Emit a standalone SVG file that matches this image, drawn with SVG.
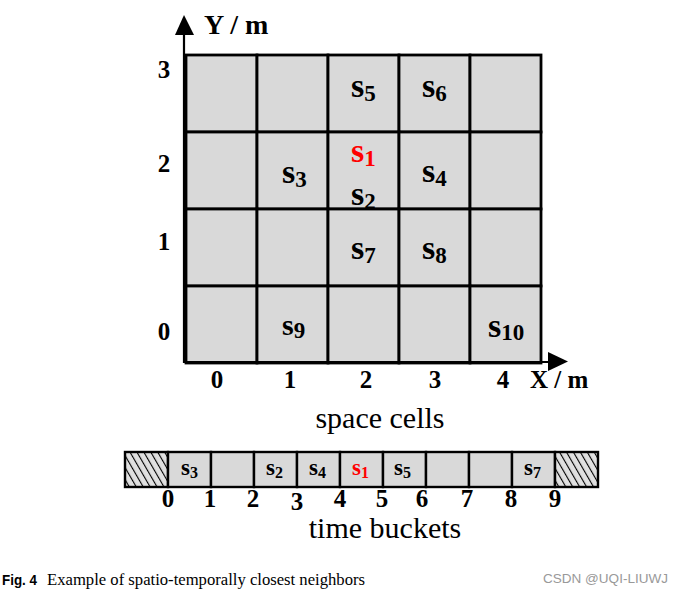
<svg xmlns="http://www.w3.org/2000/svg" width="681" height="595" viewBox="0 0 681 595">
<style>
.cell{fill:#d9d9d9;stroke:#000;stroke-width:2.8}
.tcell{fill:#d9d9d9;stroke:#000;stroke-width:2.4}
.ax{stroke:#000;stroke-width:2.2;fill:none}
.b{font-family:"Liberation Serif","Times New Roman",serif;font-weight:bold;fill:#000}
.n{font-family:"Liberation Serif","Times New Roman",serif;fill:#000}
.lab{font-size:34px}
.sub{font-size:23px}
.tlab{font-size:23px}
.tsub{font-size:16px}
.num{font-size:25px;text-anchor:middle}
.red{fill:#ff0000}
</style>
<defs>
<pattern id="hatch" patternUnits="userSpaceOnUse" width="6" height="6" patternTransform="rotate(-30)">
<rect width="6" height="6" fill="#e0e0e0"/>
<line x1="0" y1="0" x2="0" y2="6" stroke="#000" stroke-width="2.2"/>
</pattern>
</defs>
<g id="grid">
<rect class="cell" x="186" y="55" width="71" height="77"/>
<rect class="cell" x="257" y="55" width="71" height="77"/>
<rect class="cell" x="328" y="55" width="71" height="77"/>
<rect class="cell" x="399" y="55" width="71" height="77"/>
<rect class="cell" x="470" y="55" width="71" height="77"/>
<rect class="cell" x="186" y="132" width="71" height="77"/>
<rect class="cell" x="257" y="132" width="71" height="77"/>
<rect class="cell" x="328" y="132" width="71" height="77"/>
<rect class="cell" x="399" y="132" width="71" height="77"/>
<rect class="cell" x="470" y="132" width="71" height="77"/>
<rect class="cell" x="186" y="209" width="71" height="77"/>
<rect class="cell" x="257" y="209" width="71" height="77"/>
<rect class="cell" x="328" y="209" width="71" height="77"/>
<rect class="cell" x="399" y="209" width="71" height="77"/>
<rect class="cell" x="470" y="209" width="71" height="77"/>
<rect class="cell" x="186" y="286" width="71" height="77"/>
<rect class="cell" x="257" y="286" width="71" height="77"/>
<rect class="cell" x="328" y="286" width="71" height="77"/>
<rect class="cell" x="399" y="286" width="71" height="77"/>
<rect class="cell" x="470" y="286" width="71" height="77"/>
</g>
<g id="axes">
<line class="ax" x1="184" y1="363" x2="184" y2="33"/>
<polygon points="184,15 175,35 194,35" fill="#000"/>
<line class="ax" x1="183" y1="362" x2="550" y2="362"/>
<polygon points="568,361.5 548,352 548,371" fill="#000"/>
<text class="b" x="204" y="34" font-size="28">Y / m</text>
<text class="b" x="530" y="388" font-size="25">X / m</text>
<text class="b num" x="164" y="78">3</text>
<text class="b num" x="164" y="172">2</text>
<text class="b num" x="164" y="250">1</text>
<text class="b num" x="164" y="340">0</text>
<text class="b num" x="217" y="388">0</text>
<text class="b num" x="290" y="388">1</text>
<text class="b num" x="366" y="388">2</text>
<text class="b num" x="435" y="388">3</text>
<text class="b num" x="503" y="388">4</text>
</g>
<g id="points">
<text class="b lab" x="351" y="97">s<tspan class="sub" dy="4">5</tspan></text>
<text class="b lab" x="422" y="97">s<tspan class="sub" dy="4">6</tspan></text>
<text class="b lab red" x="351" y="162">s<tspan class="sub" dy="4">1</tspan></text>
<text class="b lab" x="282" y="183">s<tspan class="sub" dy="4">3</tspan></text>
<text class="b lab" x="422" y="182">s<tspan class="sub" dy="4">4</tspan></text>
<text class="b lab" x="351" y="205">s<tspan class="sub" dy="4">2</tspan></text>
<text class="b lab" x="351" y="259">s<tspan class="sub" dy="4">7</tspan></text>
<text class="b lab" x="422" y="259">s<tspan class="sub" dy="4">8</tspan></text>
<text class="b" x="282" y="335" font-size="30">s<tspan class="sub" dy="3">9</tspan></text>
<text class="b lab" x="488" y="337">s<tspan class="sub" dy="3">10</tspan></text>
</g>
<text class="n" x="380" y="428" font-size="30" text-anchor="middle">space cells</text>
<g id="timeline">
<rect x="125" y="452" width="43" height="35" fill="url(#hatch)" stroke="#000" stroke-width="2.4"/>
<rect class="tcell" x="168" y="452" width="43" height="35"/>
<rect class="tcell" x="211" y="452" width="43" height="35"/>
<rect class="tcell" x="254" y="452" width="43" height="35"/>
<rect class="tcell" x="297" y="452" width="43" height="35"/>
<rect class="tcell" x="340" y="452" width="43" height="35"/>
<rect class="tcell" x="383" y="452" width="43" height="35"/>
<rect class="tcell" x="426" y="452" width="43" height="35"/>
<rect class="tcell" x="469" y="452" width="43" height="35"/>
<rect class="tcell" x="512" y="452" width="43" height="35"/>
<rect x="555" y="452" width="43" height="35" fill="url(#hatch)" stroke="#000" stroke-width="2.4"/>
<text class="b tlab" x="181" y="475">s<tspan class="tsub" dy="3">3</tspan></text>
<text class="b tlab" x="266" y="475">s<tspan class="tsub" dy="3">2</tspan></text>
<text class="b tlab" x="309" y="475">s<tspan class="tsub" dy="3">4</tspan></text>
<text class="b tlab red" x="352" y="475">s<tspan class="tsub" dy="3">1</tspan></text>
<text class="b tlab" x="394" y="475">s<tspan class="tsub" dy="3">5</tspan></text>
<text class="b tlab" x="524" y="475">s<tspan class="tsub" dy="3">7</tspan></text>
<text class="b num" x="168" y="507">0</text>
<text class="b num" x="210" y="507">1</text>
<text class="b num" x="253" y="507">2</text>
<text class="b num" x="297" y="510">3</text>
<text class="b num" x="340" y="507">4</text>
<text class="b num" x="382" y="507">5</text>
<text class="b num" x="422" y="507">6</text>
<text class="b num" x="467" y="507">7</text>
<text class="b num" x="511" y="507">8</text>
<text class="b num" x="555" y="507">9</text>
</g>
<text class="n" x="385" y="538" font-size="30" text-anchor="middle">time buckets</text>
<g id="caption">
<text x="2" y="585" font-family="'Liberation Sans Narrow','Liberation Sans',Arial,sans-serif" font-weight="bold" font-size="14" textLength="35" lengthAdjust="spacingAndGlyphs">Fig. 4</text>
<text class="n" x="47" y="585" font-size="16" textLength="318" lengthAdjust="spacingAndGlyphs">Example of spatio-temporally closest neighbors</text>
<text x="543" y="583" font-family="'Liberation Sans Narrow','Liberation Sans',Arial,sans-serif" font-size="13" fill="#999" textLength="125" lengthAdjust="spacingAndGlyphs">CSDN @UQI-LIUWJ</text>
</g>
</svg>
